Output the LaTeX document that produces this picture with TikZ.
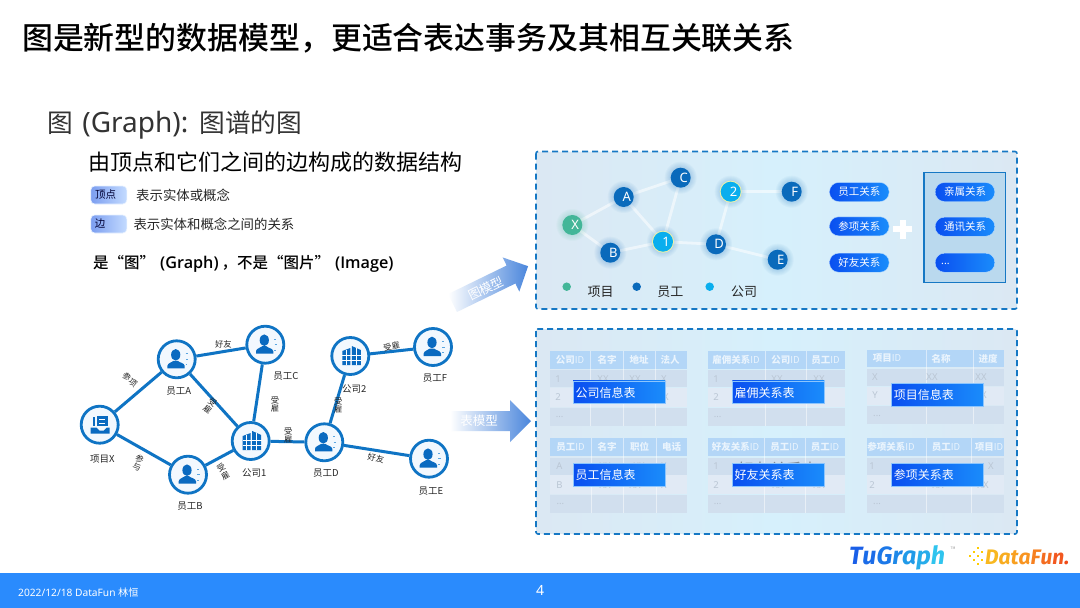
\documentclass[tikz,border=0pt]{standalone}
\usepackage{fontspec}
\setmainfont{Noto Sans CJK SC}
\newfontfamily\lat{Noto Sans}
\newfontfamily\latb{Open Sans}[BoldFont=Open Sans Semibold,UprightFont=Open Sans Semibold]
\newfontfamily\cnm{Noto Sans CJK SC Medium}
\newfontfamily\logof{Fira Sans}
\usetikzlibrary{calc}
\newcommand{\fs}[1]{\fontsize{#1}{#1}\selectfont}
\definecolor{nodeblue}{HTML}{0F74C4}
\definecolor{nodefill}{HTML}{F2F8FE}
\definecolor{iconblue}{HTML}{0A6AC0}
\definecolor{tickblue}{HTML}{5AA5E0}
\definecolor{dashblue}{HTML}{1678C4}
\definecolor{panelA}{HTML}{DBE8F3}
\definecolor{panelB}{HTML}{D6F0FC}
\definecolor{darkv}{HTML}{0A6ABB}
\definecolor{cyanv}{HTML}{0AAEEE}
\definecolor{greenv}{HTML}{43B698}
\definecolor{headc}{HTML}{B3D6F7}
\definecolor{rowa}{HTML}{CFDEEE}
\definecolor{rowb}{HTML}{E1EAF5}
\definecolor{rowc}{HTML}{D1DFEE}
\definecolor{celltx}{HTML}{BAC6D4}
\definecolor{headtx}{HTML}{EAF4FD}
\definecolor{pillL}{HTML}{0A4FF0}
\definecolor{pillR}{HTML}{1A8CFB}
\definecolor{barblue}{HTML}{2A8BFD}
\definecolor{chipL}{HTML}{7C9EF0}
\definecolor{chipR}{HTML}{C4DBFF}
\definecolor{boxfill}{HTML}{BAD9EE}
\definecolor{arrowR}{HTML}{4A86DC}
\pgfdeclarelayer{base}\pgfdeclarelayer{edge}\pgfsetlayers{base,edge,main}
\tikzset{
 gnode/.style={circle,draw=nodeblue,line width=2.8pt,fill=nodefill,minimum size=37pt,inner sep=0},
 gedge/.style={draw=nodeblue,line width=3pt},
 glabel/.style={inner sep=0,font=\fs{9.5},text=black!85},
 elabel/.style={inner sep=0,font=\fs{8.3},text=black!85,align=center},
 panel/.style={draw=dashblue,line width=1.6pt,dash pattern=on 6pt off 4pt,rounded corners=2pt,left color=panelA,right color=panelA,middle color=panelB},
 pvertex/.style={circle,minimum size=20pt,inner sep=0,text=white,font=\lat\fs{13},fill=darkv},
 pedge/.style={draw=white,opacity=.55,line width=2.8pt},
 pill/.style={rounded corners=9pt,left color=pillL,right color=pillR,draw=white!70!pillR,line width=.4pt,minimum height=19pt,inner sep=0,text=white,font=\fs{10.5}},
 legend/.style={inner sep=0,font=\fs{13},text=black!85},
 dotv/.style={circle,minimum size=8.5pt,inner sep=0},
 over/.style={left color=pillL,right color=pillR,draw=white!50!pillR,line width=.4pt,inner sep=0,minimum height=22.5pt,minimum width=92pt,text=white,font=\fs{12},align=left},
 chip/.style={rounded corners=4pt,left color=chipL,right color=chipR,draw=white!60!chipR,line width=.6pt,minimum width=36pt,minimum height=18pt,inner sep=0},
 hcell/.style={inner sep=0,font=\bfseries\fs{9.5},text=headtx},
 bcell/.style={inner sep=0,font=\lat\fs{9.5},text=celltx},
 txt/.style={inner sep=0,anchor=west},
}
\newcommand{\personicon}[1]{\begin{scope}[shift={(#1.center)}]
 \fill[iconblue] (-1,-4.5) ellipse [x radius=4.6,y radius=5.8];
 \fill[iconblue] (-9.3,9) -- (-9.3,6.5) .. controls (-9,3.5) and (-5,3.5) .. (-3,1.5) -- (1,1.5) .. controls (3,3.5) and (7.5,3.5) .. (8,6.5) -- (8,9) -- cycle;
 \draw[tickblue,line width=.8pt] (9,-5.5) -- (11,-5.5) (9.3,0) -- (11.5,0) (9,5.5) -- (10.5,5.5);
\end{scope}}
\newcommand{\buildicon}[1]{\begin{scope}[shift={(#1.center)}]
 \fill[iconblue] (-8,9) -- (-8,-5) -- (0,-8) -- (0,9) -- cycle;
 \fill[iconblue] (1.5,9) -- (1.5,-10) -- (10.5,-6) -- (10.5,9) -- cycle;
 \draw[white,line width=.7pt] (-4,-6) -- (-4,9) (6,-8) -- (6,9);
 \draw[white,line width=.7pt] (-8,-1) -- (11,-1) (-8,4) -- (11,4) ;
\end{scope}}
\newcommand{\projicon}[1]{\begin{scope}[shift={(#1.center)}]
 \fill[iconblue] (-7,-8) rectangle (-4.5,1);
 \fill[iconblue] (-3,-9) rectangle (8,1.5);
 \draw[white,line width=1pt] (-.5,-5) -- (5.5,-5) (-.5,-1.5) -- (5.5,-1.5);
 \fill[iconblue] (-9,3) -- (-3,3) -- (0,6) -- (4,6) -- (7,3) -- (10,3) -- (10,9) -- (-9,9) -- cycle;
\end{scope}}
\newcommand{\glow}[2]{\foreach \r in {11,12,...,16}{\fill[#2,opacity=.035] (#1) circle [radius=\r];}}
\newcommand{\vl}[1]{\hspace{6pt}#1}
\newcommand{\pl}[1]{#1\hspace{6pt}}
\begin{document}
\begin{tikzpicture}[x=1pt,y=-1pt]
\useasboundingbox (0,0) rectangle (1080,608);
\begin{pgfonlayer}{base}
\fill[white] (0,0) rectangle (1080,608);
\path[panel] (536,151.5) rectangle (1017,309);
\path[panel] (536,329) rectangle (1017,534);
\end{pgfonlayer}
% title
\node[txt,font=\cnm\fs{30.9}] (title) at (22,38) {图是新型的数据模型，更适合表达事务及其相互关联关系};
\node[txt,font=\fs{25.7},text=black!80] (head) at (47.5,125.5) {图\hspace{9pt}{\lat\fs{28}(Graph):}\hspace{11pt}图谱的图};
\node[txt,font=\fs{22}] (sub) at (88.5,162) {由顶点和它们之间的边构成的数据结构};
\node[chip] (c1) at (108.8,195) {};
\node[inner sep=0,font=\fs{10.5},text=black!80!blue] at (105.5,195) (c1t) {顶点};
\node[chip] (c2) at (108.8,224) {};
\node[inner sep=0,font=\fs{10.5},text=black!80!blue] at (100,224) (c2t) {边};
\node[txt,font=\fs{13.4},text=black!85] (t1) at (136,195) {表示实体或概念};
\node[txt,font=\fs{13.4},text=black!85] (t2) at (133.3,224) {表示实体和概念之间的关系};
\node[txt,font=\cnm\fs{15.5}] (t3) at (93,263.5) {是“图”\hspace{5pt}{\latb\fs{16.2}(Graph)}\hspace{3pt}，不是“图片”\hspace{5pt}{\latb\fs{16.2}(Image)}};
% arrows
\begin{scope}[shift={(511,274.5)},rotate=26]
 \path[left color=white,middle color=arrowR!45,right color=arrowR] (-65,-10) -- (0,-10) -- (0,-19) -- (19,0) -- (0,19) -- (0,10) -- (-65,10) -- cycle;
\end{scope}
\node[inner sep=0,rotate=26,font=\fs{12.5},text=white] (a1t) at (486,288.5) {图模型};
\path[left color=white,middle color=arrowR!55,right color=arrowR] (450,411) -- (510,411) -- (510,400) -- (531,421) -- (510,442) -- (510,431) -- (450,431) -- cycle;
\node[inner sep=0,font=\fs{12.5},text=white] (a2t) at (479,421) {表模型};
% panel 1
\coordinate (gx) at (572.3,225);\glow{gx}{greenv}
\foreach \a/\b in {623.7/197,680.7/177.7,610.3/252.7,663/241.7,730.7/191.7,791.7/191.7,716/244.3,777.7/259.7}{\coordinate (g) at (\a,\b);\glow{g}{darkv}}
\fill[yellow!40!white,opacity=.8] (663,241.7) circle [radius=11];
\fill[yellow!40!white,opacity=.8] (730.7,191.7) circle [radius=11];
\node[pvertex,fill=greenv] (vX) at (572.3,225) {\vl{X}};
\node[pvertex] (vA) at (623.7,197) {\vl{A}};
\node[pvertex] (vC) at (680.7,177.7) {\vl{C}};
\node[pvertex] (vB) at (610.3,252.7) {\vl{B}};
\node[pvertex,fill=cyanv] (v1) at (663,241.7) {\vl{1}};
\node[pvertex,fill=cyanv] (v2) at (730.7,191.7) {\vl{2}};
\node[pvertex] (vF) at (791.7,191.7) {\vl{F}};
\node[pvertex] (vD) at (716,244.3) {\vl{D}};
\node[pvertex] (vE) at (777.7,259.7) {\vl{E}};
\begin{pgfonlayer}{edge}
\draw[pedge] (vX.center) -- (vA.center);
\draw[pedge] (vX.center) -- (vB.center);
\draw[pedge] (vA.center) -- (vC.center);
\draw[pedge] (vA.center) -- (v1.center);
\draw[pedge] (vC.center) -- (v1.center);
\draw[pedge] (vB.center) -- (v1.center);
\draw[pedge] (v1.center) -- (vD.center);
\draw[pedge] (vD.center) -- (v2.center);
\draw[pedge] (v2.center) -- (vF.center);
\draw[pedge] (vD.center) -- (vE.center);
\end{pgfonlayer}
\node[dotv,fill=greenv] (l1) at (566.7,286.7) {};
\node[dotv,fill=darkv] (l2) at (636.7,286.7) {};
\node[dotv,fill=cyanv] (l3) at (709.7,286.7) {};
\node[legend] (l1t) at (600.7,291.5) {项目};
\node[legend] (l2t) at (670.3,291.5) {员工};
\node[legend] (l3t) at (744,291.5) {公司};
\node[pill,minimum width=59.5pt] (p1) at (859.3,192) {\pl{员工关系}};
\node[pill,minimum width=59.5pt] (p2) at (859.3,226.3) {\pl{参项关系}};
\node[pill,minimum width=59.5pt] (p3) at (859.3,262.7) {\pl{好友关系}};
\fill[white] (893.2,226.3) rectangle (912.2,232.3);
\fill[white] (899.7,219.8) rectangle (905.7,238.8);
\path[draw=dashblue,line width=1.5pt,left color=boxfill,middle color=panelB!50!boxfill,right color=boxfill] (924,172.3) rectangle (1005.7,282.3);
\node[pill,minimum width=59.5pt] (q1) at (965,192) {\pl{亲属关系}};
\node[pill,minimum width=59.5pt] (q2) at (965,226.7) {\pl{通讯关系}};
\node[pill,minimum width=59.5pt] (q3) at (965,262.7) {};
\node[inner sep=0,text=white,font=\lat\fs{10.5},anchor=west] (q3t) at (941,264) {...};
% tables
\newcommand{\tbl}[4]{%
 \fill[headc] (#1,#3) rectangle (#2,#3+17.5);
 \fill[rowa] (#1,#3+19.3) rectangle (#2,#3+36.3);
 \fill[rowb] (#1,#3+37) rectangle (#2,#3+55.7);
 \fill[rowc] (#1,#3+56.7) rectangle (#2,#3+74.7);
 \foreach \c in {#4}{\draw[white,opacity=.5,line width=.5pt] (\c,#3) -- (\c,#3+74.7);}
 \node[bcell,anchor=west] at (#1+6,#3+66) {...};
}
\tbl{549.7}{687}{351}{590.7,623.3,655.7}
\tbl{707.7}{845.3}{351}{765.3,806}
\tbl{867}{1004.3}{349.7}{926.3,973}
\tbl{550.3}{687}{438.3}{591.3,623.7,656.3}
\tbl{707.7}{845.3}{438.3}{764.3,805.3}
\tbl{867}{1004.3}{438.3}{926.3,971.7}
\foreach \x/\y/\t in {
 570/359.7/公司{\mdseries ID},607/359.7/名字,639/359.7/地址,670/359.7/法人,
 736/359.7/雇佣关系{\mdseries ID},785.5/359.7/公司{\mdseries ID},825.5/359.7/员工{\mdseries ID},
 887/358.5/项目{\mdseries ID},941/358.5/名称,988/358.5/进度,
 570.5/447/员工{\mdseries ID},607/447/名字,639.5/447/职位,671.5/447/电话,
 735.5/447/好友关系{\mdseries ID},784.5/447/员工{\mdseries ID},825/447/员工{\mdseries ID},
 891/447/参项关系{\mdseries ID},946/447/员工{\mdseries ID},989/447/项目{\mdseries ID}}
 {\node[hcell] at (\x,\y) {\t};}
\foreach \x/\y/\t in {
 558/379/1,603/379/XX,635/379/XX,664/379/X,558/397/2,666/397/X,
 716/379/1,777/379/XX,819/379/XX,716/397/2,
 875/377/X,932/377/XX,981/377/XX,875/395.5/Y,984/395.5/X,
 559.5/466/A,605/466/XX,639/466/XX,664/466/X,559.5/485/B,605/485/XX,635/485/XX,664/485/X,
 716/466/1,716/485/2,778/485/XX,819/485/XX,
 872/466/1,991/466/X,872/485/2,938/485/XX,983/485/XX}
 {\node[bcell] at (\x,\y) {\t};}
\node[inner sep=0,font=\fs{16},text=black!30!celltx] (ghost) at (778,469.5) {好友关系表};
\foreach \n/\x/\y/\t in {o1/619.2/392.2/公司信息表,o2/778.3/392.2/雇佣关系表,o3/937.5/394.5/项目信息表,o4/619.2/474.5/员工信息表,o5/778.3/474.5/好友关系表,o6/937.5/474.5/参项关系表}
 {\node[over] (\n) at (\x,\y) {};
  \node[inner sep=0,text=white,font=\fs{12},anchor=west] (\n t) at ($(\n.west)+(2.3,.5)$) {\t};}
% left graph
\node[gnode] (X) at (99.7,424.7) {};
\node[gnode] (A) at (176.7,359.3) {};
\node[gnode] (C) at (265.3,344.7) {};
\node[gnode] (B) at (188,474.7) {};
\node[gnode] (G1) at (250.7,441) {};
\node[gnode] (D) at (324.3,442.3) {};
\node[gnode] (G2) at (350.3,356) {};
\node[gnode] (F) at (433,347) {};
\node[gnode] (E) at (429,458.7) {};
\begin{pgfonlayer}{edge}
\draw[gedge] (X) -- (A);
\draw[gedge] (X) -- (B);
\draw[gedge] (A) -- (C);
\draw[gedge] (A) -- (G1);
\draw[gedge] (C) -- (G1);
\draw[gedge] (B) -- (G1);
\draw[gedge] (G1) -- (D);
\draw[gedge] (D) -- (G2);
\draw[gedge] (G2) -- (F);
\draw[gedge] (D) -- (E);
\end{pgfonlayer}
\personicon{A}\personicon{C}\personicon{B}\personicon{D}\personicon{F}\personicon{E}
\buildicon{G1}\buildicon{G2}\projicon{X}
\node[glabel] (nA) at (178.7,391) {员工A};
\node[glabel] (nC) at (286,375.7) {员工C};
\node[glabel] (nX) at (102.3,458.7) {项目X};
\node[glabel] (nB) at (190,506.3) {员工B};
\node[glabel] (n1) at (254.3,473.3) {公司1};
\node[glabel] (nD) at (326,473.3) {员工D};
\node[glabel] (n2) at (354.3,389) {公司2};
\node[glabel] (nF) at (435,378.3) {员工F};
\node[glabel] (nE) at (431,490.7) {员工E};
\node[elabel] (e1) at (223.3,344.3) {好友};
\node[elabel,rotate=-40] (e2) at (130,379.7) {参项};
\node[elabel,rotate=-20] (e3) at (138.3,463) {参\\与};
\node[elabel,rotate=-37] (e4) at (210,406) {受\\雇};
\node[elabel,rotate=30] (e5) at (223.3,471.7) {受\\雇};
\node[elabel] (e6) at (275,404) {受\\雇};
\node[elabel] (e7) at (288.3,435.3) {受\\雇};
\node[elabel] (e8) at (338.3,405) {受\\雇};
\node[elabel,rotate=12] (e9) at (391.7,346.7) {受雇};
\node[elabel,rotate=-12] (e10) at (376,458.3) {好友};
% footer
\fill[barblue] (0,573) rectangle (1080,608);
\node[txt,text=white,font=\lat\fs{10.2}] (ft) at (18,592.5) {2022/12/18 DataFun {\rmfamily 林恒}};
\node[inner sep=0,text=white,font=\lat\fs{14}] (pg) at (540,590) {4};
% logos
\node[txt,font=\logof\bfseries\itshape\fs{25}] (tg) at (849,557.5) {\textcolor[HTML]{1A5FE8}{T}\textcolor[HTML]{1B6CE8}{u}\textcolor[HTML]{1C78E8}{G}\textcolor[HTML]{1E88E8}{r}\textcolor[HTML]{209AE8}{a}\textcolor[HTML]{26ACEA}{p}\textcolor[HTML]{30C4EE}{h}};
\node[inner sep=0,font=\fs{3.5},text=black!40] (tm) at (953,548) {TM};
\foreach \a/\b in {970/556,974/552,978/548,974/560,978/556,982/552,978/564,982/560}{\fill[orange!40!yellow] (\a-1,\b-1) rectangle (\a+1,\b+1);}
\node[txt,font=\logof\bfseries\itshape\fs{21}] (df) at (985,557.5) {\textcolor[HTML]{F8B820}{D}\textcolor[HTML]{F8AC20}{a}\textcolor[HTML]{F8A020}{t}\textcolor[HTML]{F89420}{a}\textcolor[HTML]{F68020}{F}\textcolor[HTML]{F46C20}{u}\textcolor[HTML]{F25820}{n}\textcolor[HTML]{F04A18}{.}};
\end{tikzpicture}
\end{document}
